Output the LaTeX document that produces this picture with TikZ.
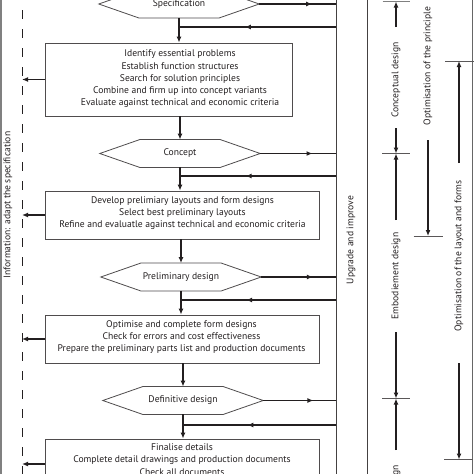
\documentclass[tikz,border=0pt]{standalone}
\usepackage{fontspec}
\setmainfont{PT Sans}
\usetikzlibrary{arrows.meta,decorations.markings,calc}
\definecolor{ink}{HTML}{231F20}
\newcommand{\hexdraw}[1]{\draw[boxline] (#1.west) -- ([xshift=40pt]#1.north west) -- ([xshift=-40pt]#1.north east) -- (#1.east) -- ([xshift=-40pt]#1.south east) -- ([xshift=40pt]#1.south west) -- cycle;}
\begin{document}
\begin{tikzpicture}[x=1pt,y=-1pt,
  ln/.style={line width=1.2pt, draw=ink},
  thinln/.style={line width=0.8pt, draw=ink!85},
  tip/.style={-{Latex[length=6pt,width=5pt]}},
  boxline/.style={line width=0.8pt, draw=ink!80},
  box/.style={draw=ink!80, line width=0.8pt, inner sep=0pt},
  txt/.style={font=\fontsize{9.6}{12.3}\selectfont, align=center, text=ink, inner sep=0pt},
  hexnode/.style={draw=none, minimum width=160pt, minimum height=27.5pt, inner sep=0pt, font=\fontsize{9.6}{12.3}\selectfont, text=ink},
  rtxt/.style={font=\fontsize{9.6}{12.3}\selectfont, text=ink, inner sep=0pt, rotate=90},
  midarrow/.style={postaction={decorate}, decoration={markings, mark=at position #1 with {\arrow{Latex[length=6pt,width=5pt]}}}},
  dashline/.style={line width=0.9pt, draw=ink, dash pattern=on 9pt off 10pt},
  tick/.style={line width=0.8pt, draw=ink!75}
]
\useasboundingbox (0,0) rectangle (474,474);
\fill[white] (0,0) rectangle (474,474);
\clip (0,0) rectangle (474,474);

% frame lines
\draw[line width=2pt, black!50] (1,-5) -- (1,480);
\draw[line width=1pt, black!60] (472.5,-5) -- (472.5,480);

% trunk lines
\coordinate (trT) at (336,-5);
\coordinate (trB) at (336,480);
\draw[thinln] (trT) -- (trB);
\coordinate (tr2T) at (367,-5);
\coordinate (tr2B) at (367,480);
\draw[thinln] (tr2T) -- (tr2B);
\node[rtxt] (upg) at (351,240) {Upgrade and improve};

% dashed information line
\coordinate (dT) at (22,10);
\coordinate (dB) at (22,480);
\draw[dashline] (dT) -- (dB);
\node[rtxt] (info) at (8,205) {Information: adapt the specification};

% hexagons
\node[hexnode] (spec) at (179,4) {Specification};
\hexdraw{spec}
\node[hexnode] (conc) at (180,153.5) {Concept};
\hexdraw{conc}
\node[hexnode] (prel) at (181,277) {Preliminary design};
\hexdraw{prel}
\node[hexnode] (defi) at (183,400.5) {Definitive design};
\hexdraw{defi}

% boxes
\node[box, minimum width=247pt, minimum height=73pt] (b1) at (168.5,79.5) {};
\node[txt] (t1) at (180,79) {Identify essential problems\\Establish function structures\\Search for solution principles\\Combine and firm up into concept variants\\Evaluate against technical and economic criteria};
\node[box, minimum width=274pt, minimum height=48pt] (b2) at (182,215) {};
\node[txt] (t2) at (182.5,213) {Develop prelimiary layouts and form designs\\Select best preliminary layouts\\Refine and evaluatle against technical and economic criteria};
\node[box, minimum width=274pt, minimum height=48pt] (b3) at (182,339) {};
\node[txt] (t3) at (181.5,337) {Optimise and complete form designs\\Check for errors and cost effectiveness\\Prepare the preliminary parts list and production documents};
\node[box, minimum width=274pt, minimum height=50pt] (b4) at (182,464) {};
\node[txt] (t4) at (182,459.5) {Finalise details\\Complete detail drawings and production documents\\Check all documents};

% downward flow arrows
\draw[ln,tip] (spec.south) -- (spec.south |- b1.north);
\draw[ln,tip] (b1.south -| conc.north) -- (conc.north);
\draw[ln,tip] (conc.south) -- (conc.south |- b2.north);
\draw[ln,tip] (b2.south -| prel.north) -- (prel.north);
\draw[ln,tip] (prel.south) -- (prel.south |- b3.north);
\draw[ln,tip] (b3.south -| defi.north) -- (defi.north);
\draw[ln,tip] (defi.south) -- (defi.south |- b4.north);

% outgoing to trunk
\draw[ln, midarrow=0.69] (spec.east) -- (spec.east -| trT);
\draw[ln, midarrow=0.69] (conc.east) -- (conc.east -| trT);
\draw[ln, midarrow=0.69] (prel.east) -- (prel.east -| trT);
\draw[ln, midarrow=0.69] (defi.east) -- (defi.east -| trT);

% returns from trunk
\coordinate (r1) at (336,27);
\coordinate (r2) at (336,176);
\coordinate (r3) at (336,300);
\coordinate (r4) at (336,425);
\draw[ln, midarrow=0.58] (r1) -- (r1 -| spec.south);
\draw[ln, midarrow=0.58] (r2) -- (r2 -| conc.south);
\draw[ln, midarrow=0.58] (r3) -- (r3 -| prel.south);
\draw[ln, midarrow=0.58] (r4) -- (r4 -| defi.south);

% information arrows
\draw[ln,tip] (b1.west) -- (b1.west -| dT);
\draw[ln,tip] (b2.west) -- (b2.west -| dT);
\draw[ln,tip] (b3.west) -- (b3.west -| dT);
\draw[ln,tip] (b4.west) -- (b4.west -| dT);

% phase column
\coordinate (c0) at (396,1.5);
\coordinate (c1) at (396,153.5);
\coordinate (c2) at (396,398.5);
\draw[line width=1.6pt, black!50] ([xshift=-13.5pt]c0) -- ([xshift=13.5pt]c0);
\draw[tick] ([xshift=-14pt]c1) -- ([xshift=14pt]c1);
\draw[tick] ([xshift=-14pt]c2) -- ([xshift=14pt]c2);
\node[rtxt] (cd) at (396,80) {Conceptual design};
\node[rtxt] (ed) at (396,276) {Embodiement design};
\node[rtxt, anchor=east] (dd) at (396,465) {Detail design};
\coordinate (ca) at (396,27);
\coordinate (cb) at (396,128);
\coordinate (ea) at (396,220);
\coordinate (eb) at (396,332);
\coordinate (da) at (396,450);
\draw[ln,tip] (ca) -- (c0);
\draw[ln,tip] (cb) -- (c1);
\draw[ln,tip] (ea) -- (c1);
\draw[ln,tip] (eb) -- (c2);
\draw[ln,tip] (da) -- (c2);

% optimisation of the principle
\node[rtxt] (op) at (428,66) {Optimisation of the principle};
\coordinate (pa) at (428,140);
\coordinate (p1) at (428,236);
\draw[tick] ([xshift=-14.5pt]p1) -- ([xshift=14.5pt]p1);
\draw[ln,tip] (pa) -- (p1);

% optimisation of the layout and forms
\node[rtxt] (ol) at (459,256) {Optimisation of the layout and forms};
\coordinate (l0) at (459,61);
\coordinate (la) at (459,163);
\coordinate (lb) at (459,363);
\coordinate (l1) at (459,459.5);
\draw[tick] ([xshift=-14pt]l0) -- ([xshift=15pt]l0);
\draw[tick] ([xshift=-15pt]l1) -- ([xshift=14pt]l1);
\draw[ln,tip] (la) -- (l0);
\draw[ln,tip] (lb) -- (l1);
\end{tikzpicture}
\end{document}
